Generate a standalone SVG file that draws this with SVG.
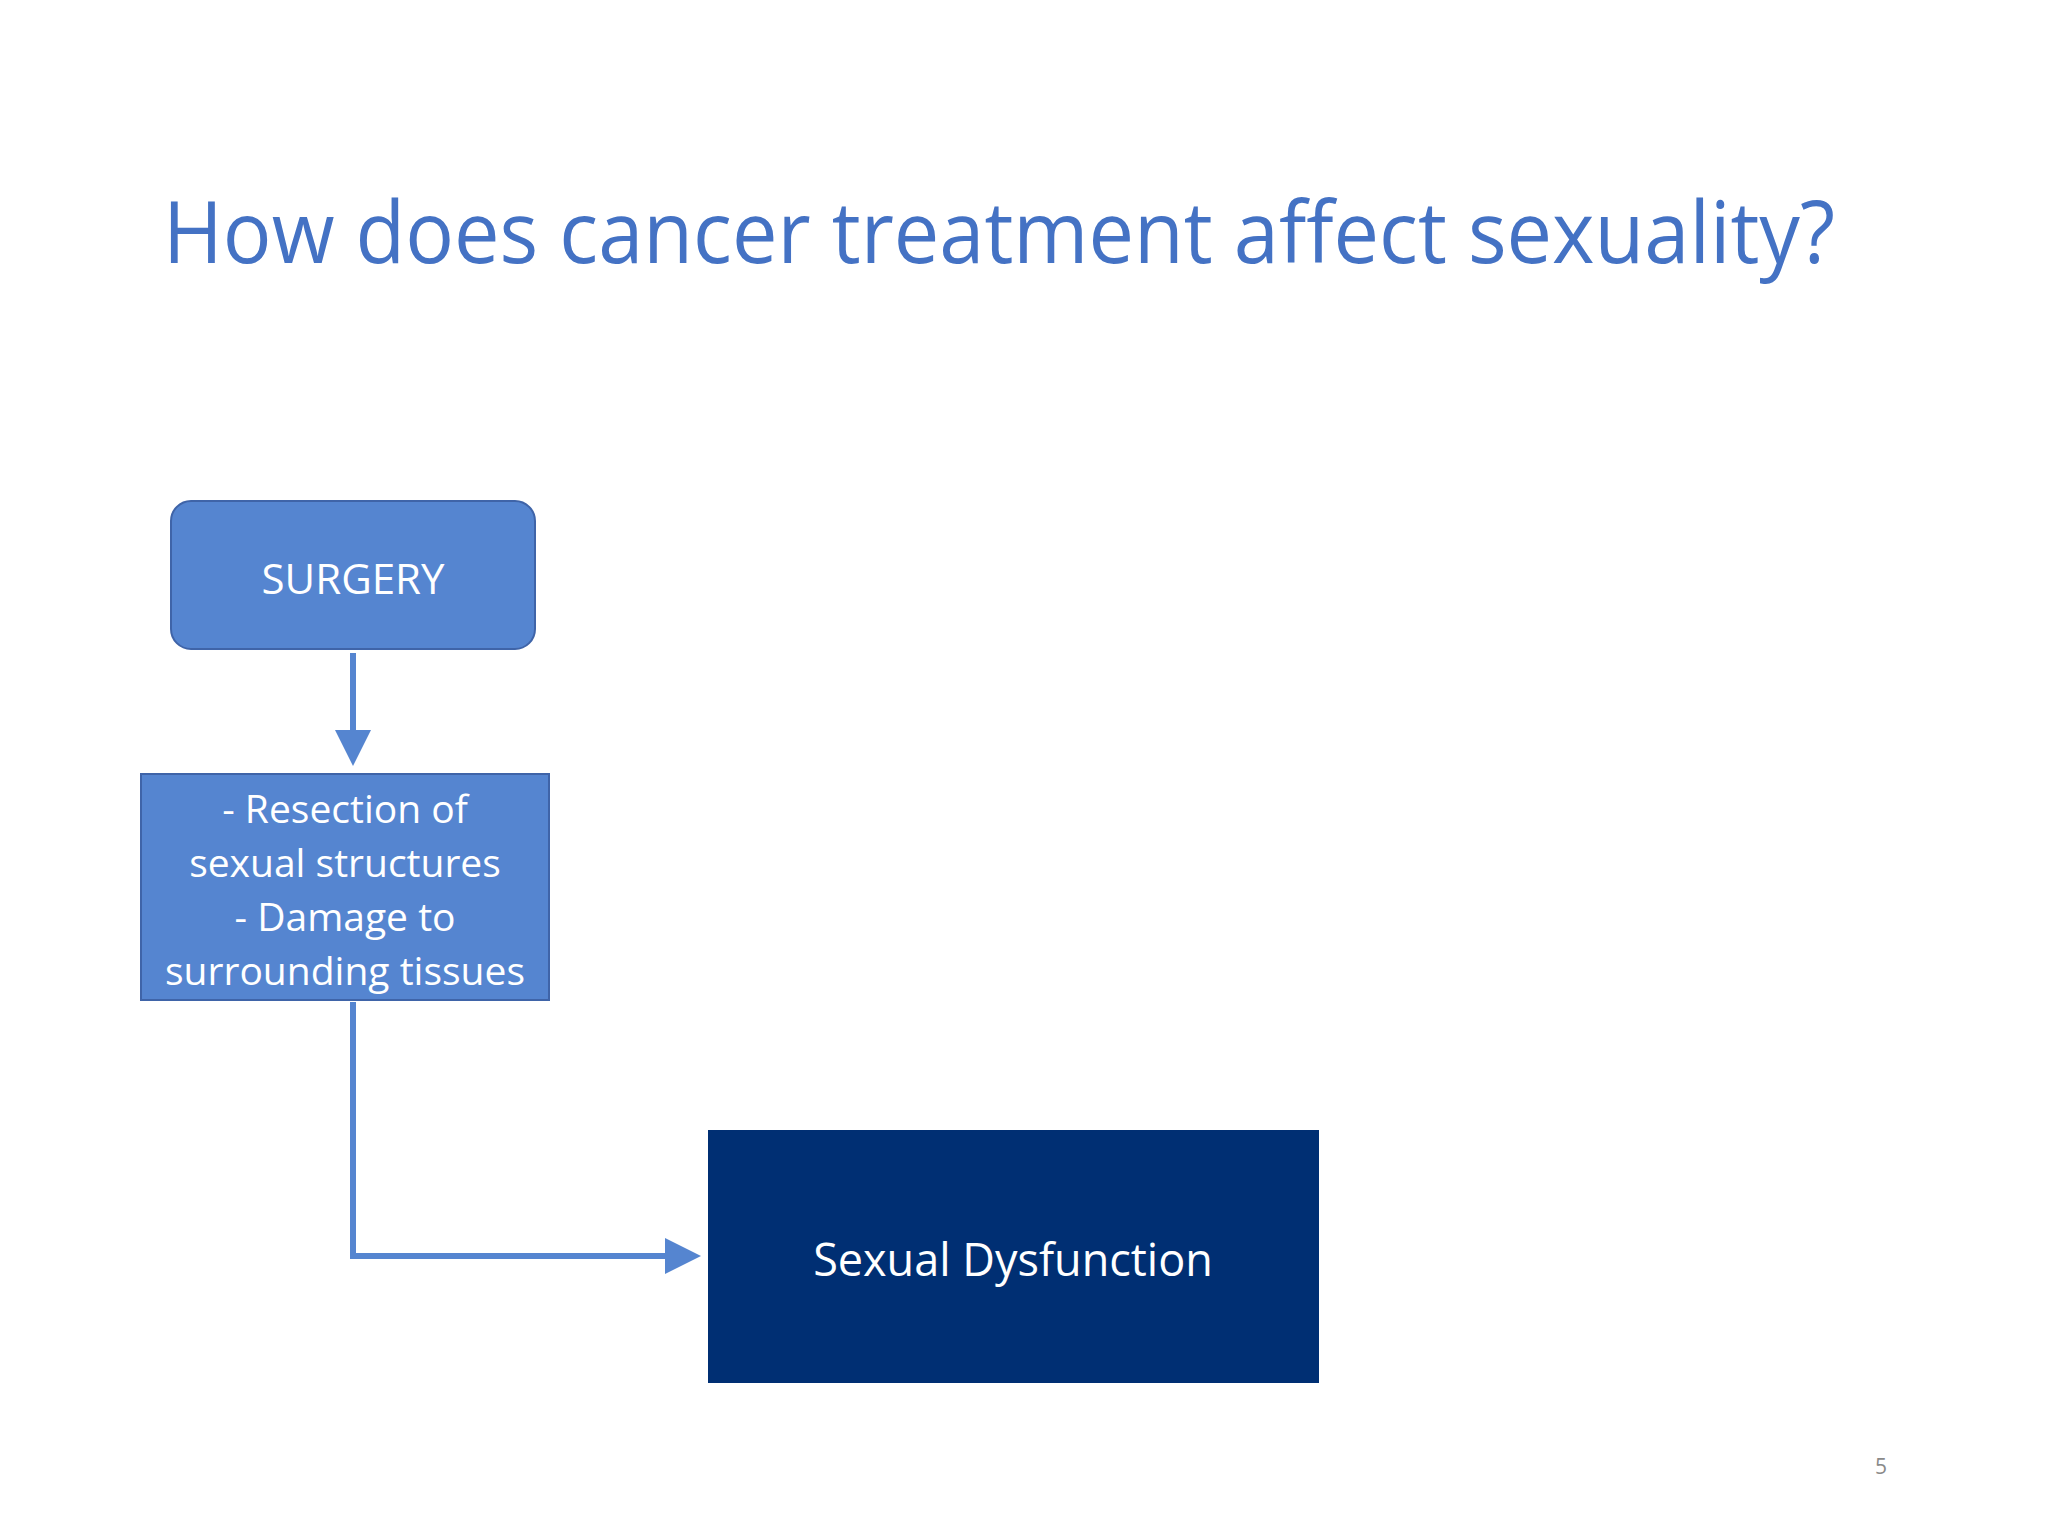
<svg xmlns="http://www.w3.org/2000/svg" width="2048" height="1536" viewBox="0 0 2048 1536">
<defs>
<style>
.t{font-family:"Open Sans","Noto Sans",sans-serif;fill:#fff;text-anchor:middle}
.c{fill:none;stroke:#5585D0;stroke-width:6}
</style>
<marker id="ah" markerWidth="6" markerHeight="6" refX="5" refY="3" orient="auto" markerUnits="strokeWidth">
<path d="M0,0 L6,3 L0,6 z" fill="#5585D0"/>
</marker>
</defs>
<rect width="2048" height="1536" fill="#fff"/>
<text x="163" y="263" font-family="Open Sans, Noto Sans, sans-serif" font-size="86" fill="#4472C4" textLength="1672" lengthAdjust="spacingAndGlyphs">How does cancer treatment affect sexuality?</text>
<g id="connectors">
<line class="c" x1="353" y1="653" x2="353" y2="760" marker-end="url(#ah)"/>
<polyline class="c" points="353,1002 353,1256 695,1256" marker-end="url(#ah)"/>
</g>
<g id="surgery">
<rect x="171" y="501" width="364" height="148" rx="20" fill="#5585D0" stroke="#3F64A8" stroke-width="2"/>
<text class="t" x="353" y="594" font-size="42">SURGERY</text>
</g>
<g id="effects">
<rect x="141" y="774" width="408" height="226" fill="#5585D0" stroke="#3F64A8" stroke-width="2"/>
<text class="t" x="345" y="823" font-size="39">- Resection of</text>
<text class="t" x="345" y="877" font-size="39">sexual structures</text>
<text class="t" x="345" y="931" font-size="39">- Damage to</text>
<text class="t" x="345" y="985" font-size="39">surrounding tissues</text>
</g>
<g id="dysfunction">
<rect x="708" y="1130" width="611" height="253" fill="#002F73"/>
<text class="t" x="1013" y="1276" font-size="45">Sexual Dysfunction</text>
</g>
<text x="1881" y="1474" font-family="Open Sans, sans-serif" font-size="21" fill="#8a8a8a" text-anchor="middle">5</text>
</svg>
